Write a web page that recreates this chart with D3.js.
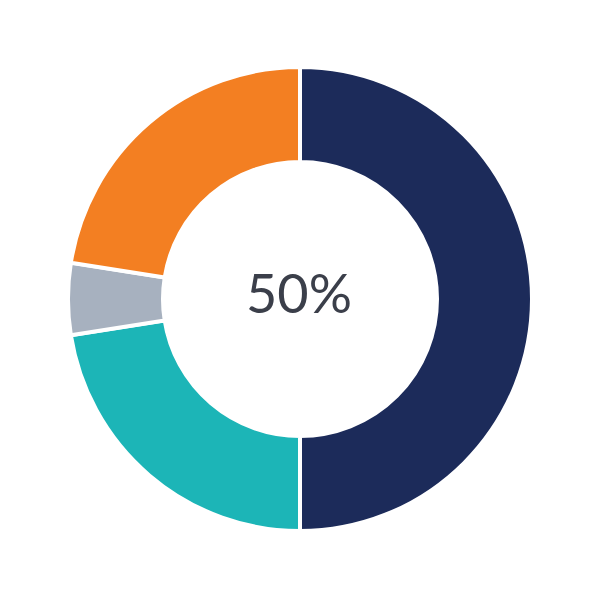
<!DOCTYPE html>
<html>
<head>
<meta charset="utf-8">
<script src="https://cdn.jsdelivr.net/npm/d3@7"></script>
<style>
  body { margin: 0; background: #fff; }
</style>
</head>
<body>
<script>
// slice data, clockwise from 12 o'clock
var labels = ["A", "B", "C", "D"];
var values = [50, 22.5, 5, 22.5];
var colors = ["#1c2b5a", "#1cb5b7", "#a7b1bf", "#f37f22"];
var centerLabel = "50%";

var width = 600, height = 599;
var cx = 300, cy = 299;
var outerR = 232, innerR = 137;

var svg = d3.select("body").append("svg")
    .attr("width", width)
    .attr("height", height)
  .append("g")
    .attr("transform", "translate(" + cx + "," + cy + ")");

var pie = d3.pie().sort(null).value(function(d) { return d; });
var arc = d3.arc().innerRadius(innerR).outerRadius(outerR);

svg.selectAll("path")
    .data(pie(values))
    .enter()
    .append("path")
    .attr("d", arc)
    .attr("fill", function(d, i) { return colors[i]; })
    .attr("stroke", "#fff")
    .attr("stroke-width", 4);

// center text
svg.append("text")
    .attr("text-anchor", "middle")
    .attr("x", -1)
    .attr("y", 14)
    .style("font-family", "Lato, sans-serif")
    .style("font-size", "54px")
    .style("fill", "#3b3f4a")
    .text(centerLabel);
</script>
</body>
</html>
